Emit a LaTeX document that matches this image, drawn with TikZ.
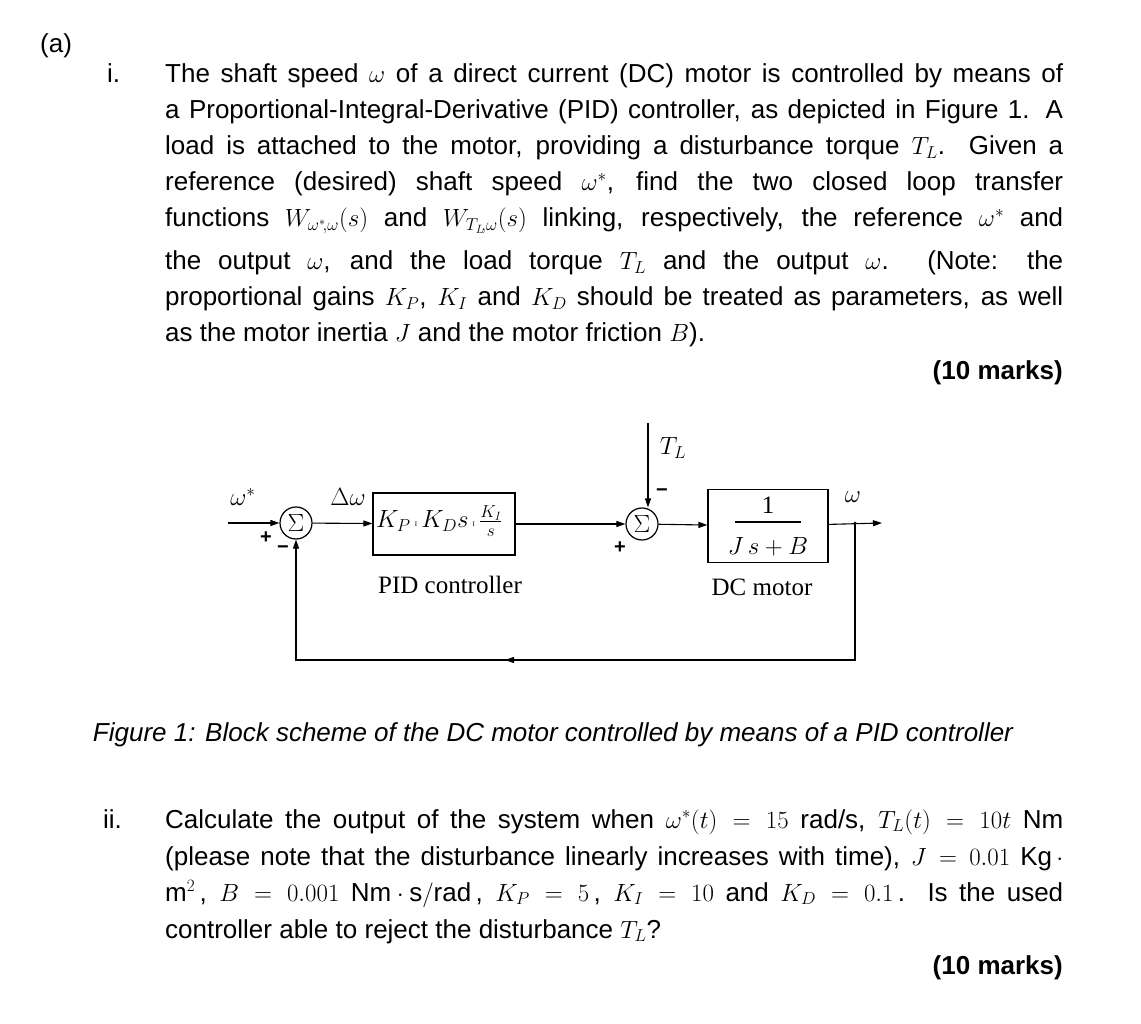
\documentclass[tikz,border=0pt]{standalone}
\usepackage{fontspec}
\setmainfont{Liberation Sans}
\newfontfamily\tms{Liberation Serif}
\usetikzlibrary{arrows.meta}
\newcommand{\jl}[1]{\makebox[898pt][s]{#1}}
\begin{document}
\begin{tikzpicture}[x=1pt,y=-1pt,
  txt/.style={anchor=base west,inner sep=0pt,font=\fontsize{26}{30}\selectfont},
  dg/.style={inner sep=0pt,font=\tms\fontsize{25}{28}\selectfont},
  sm/.style={circle,draw,line width=1.2pt,minimum size=32pt,inner sep=0pt,font=\fontsize{24}{26}\selectfont},
  blk/.style={draw,line width=1.2pt,inner sep=0pt},
  sg/.style={inner sep=0pt,font=\bfseries\fontsize{20}{22}\selectfont},
  ar/.style={line width=1.1pt,-{Triangle[length=9pt,width=6pt]}},
  ln/.style={line width=1.1pt}]
\useasboundingbox (0,0) rectangle (1141,1024);
\node[txt] (a) at (40,53) {(a)};
\node[txt] (i) at (107,83) {i.};
\node[txt] (l1) at (165,83) {\jl{The shaft speed $\omega$ of a direct current (DC) motor is controlled by means of}};
\node[txt] (l2) at (165,119) {\jl{a Proportional-Integral-Derivative (PID) controller, as depicted in Figure 1. A}};
\node[txt] (l3) at (165,155) {\jl{load is attached to the motor, providing a disturbance torque $T_L$. Given a}};
\node[txt] (l4) at (165,191) {\jl{reference (desired) shaft speed $\omega^*$, find the two closed loop transfer}};
\node[txt] (l5) at (165,227) {\jl{functions $W_{\omega^*\!,\omega}(s)$ and $W_{T_L\!,\omega}(s)$ linking, respectively, the reference $\omega^*$ and}};
\node[txt] (l6) at (165,270) {\jl{the output $\omega$, and the load torque $T_L$ and the output $\omega$. (Note: the}};
\node[txt] (l7) at (165,306) {\jl{proportional gains $K_P$, $K_I$ and $K_D$ should be treated as parameters, as well}};
\node[txt] (l8) at (165,342) {as the motor inertia $J$ and the motor friction $B$).};
\node[txt,anchor=base east,font=\bfseries\fontsize{26}{30}\selectfont] (m1) at (1063,379) {(10 marks)};
% diagram
\node[sm] (s1) at (296,523) {$\Sigma$};
\node[blk,minimum width=142pt,minimum height=62pt] (pid) at (444,524) {};
\node[dg,anchor=west] (pidt) at (376,521) {$K_P$\,\raisebox{1pt}{\scriptsize I}\,$K_D s$\,\raisebox{1pt}{\scriptsize I}\,$\frac{K_I}{s}$};
\node[sm] (s2) at (642,524) {$\Sigma$};
\node[blk,minimum width=120pt,minimum height=73pt] (mot) at (768,526) {};
\node[dg] (one) at (768,505) {1};
\draw[ln] (735,522) -- (801,522);
\node[dg] (den) at (768,547) {$J\,s + B$};
\coordinate (in) at (228,523);
\coordinate (out) at (882,523);
\coordinate (br) at (855,523);
\coordinate (tl) at (648,423);
\coordinate (fb1) at (855,660);
\coordinate (fb2) at (296,660);
\coordinate (fbm) at (505,660);
\draw[ar] (in) -- (s1);
\draw[ar] (s1) -- (pid);
\draw[ar] (pid) -- (s2);
\draw[ar] (s2) -- (mot);
\draw[ar] (mot) -- (out);
\draw[ar] (tl) -- (tl |- s2.north);
\draw[ln] (br) -- (fb1) -- (fbm);
\draw[ar] (fb1) -- (fbm);
\draw[ar] (fbm) -- (fb2) -- (s1);
\fill (br) circle (1.5pt);
\node[dg] (ws) at (243,497) {$\omega^*$};
\node[dg] (dw) at (348,497) {$\Delta\omega$};
\node[dg] (tlt) at (673,448) {$T_L$};
\node[dg] (wo) at (853,497) {$\omega$};
\node[sg] (p1) at (266,538) {+};
\node[sg] (m1a) at (283,550) {\textminus};
\node[sg] (p2) at (620,548) {+};
\node[sg] (m2) at (662,493) {\textminus};
\node[dg] (pidl) at (450,585) {PID controller};
\node[dg] (motl) at (762,587) {DC motor};
\node[anchor=base,inner sep=0pt,font=\itshape\fontsize{26}{30}\selectfont] (cap) at (553,741) {Figure 1: Block scheme of the DC motor controlled by means of a PID controller};
% ii
\node[txt] (ii) at (103,828) {ii.};
\node[txt] (k1) at (165,828) {\jl{Calculate the output of the system when $\omega^*(t)=15$ rad/s, $T_L(t)=10t$ Nm}};
\node[txt] (k2) at (165,865) {\jl{(please note that the disturbance linearly increases with time), $J=0.01\ \mathrm{Kg}\,\cdot$}};
\node[txt] (k3) at (165,901) {\jl{$\mathrm{m}^2$\,, $B=0.001\ \mathrm{Nm\cdot s/rad}$\,, $K_P=5$\,, $K_I=10$ and $K_D=0.1$\,. Is the used}};
\node[txt] (k4) at (165,938) {controller able to reject the disturbance $T_L$?};
\node[txt,anchor=base east,font=\bfseries\fontsize{26}{30}\selectfont] (m2b) at (1063,974) {(10 marks)};
\end{tikzpicture}
\end{document}
